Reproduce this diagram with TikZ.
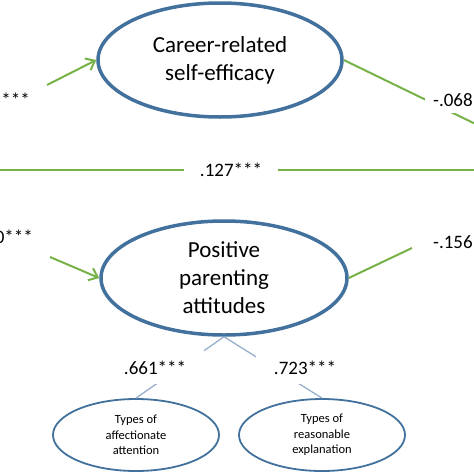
\documentclass[tikz,border=0pt]{standalone}
\usepackage{fontspec}
\setmainfont{Carlito}
\usetikzlibrary{arrows.meta,shapes.geometric}

\definecolor{ellblue}{RGB}{65,113,156}
\definecolor{pathgreen}{RGB}{118,178,72}
\definecolor{loadblue}{RGB}{150,175,205}

\begin{document}
\begin{tikzpicture}[x=1pt,y=-1pt,>={Straight Barb[length=8pt,width=13pt]}]
  \tikzstyle{latent}=[ellipse,draw=ellblue,line width=3.5pt,align=center,
    font=\fontsize{23}{28}\selectfont]
  \tikzstyle{indic}=[ellipse,draw=ellblue,line width=1.8pt,align=center,
    minimum width=166pt,minimum height=72pt,font=\fontsize{12.5}{15.5}\selectfont]
  \tikzstyle{lab}=[fill=white,inner xsep=8pt,inner ysep=6pt,
    font=\fontsize{19}{23}\selectfont]
  \tikzstyle{load}=[lab,inner xsep=18pt,minimum height=34pt]
  \tikzstyle{gpath}=[draw=pathgreen,line width=2pt]
  \tikzstyle{lpath}=[draw=loadblue,line width=1.3pt]

  \useasboundingbox (0,0) rectangle (474,474);

  \node [latent,minimum width=244pt,minimum height=114pt] (cse) at (220,60)
    {Career-related\\self-efficacy} ;
  \node [latent,minimum width=246pt,minimum height=114pt] (ppa) at (224,278)
    {Positive\\parenting\\attitudes} ;
  \node [indic] (afa) at (136,435) {Types of\\affectionate\\attention} ;
  \node [indic] (rex) at (322,435) {Types of\\reasonable\\explanation} ;

  % paths coming from and going out of the picture
  \coordinate (inA) at (47,85) ;
  \coordinate (inB) at (50,257) ;
  \coordinate (outA) at (490,131) ;
  \coordinate (outB) at (412,248) ;
  \coordinate (midL) at (-17,170) ;
  \coordinate (midR) at (479,170) ;

  \draw [->,gpath] (inA) -- (cse.west) ;
  \draw [->,gpath] (inB) -- (ppa.west) ;
  \draw [gpath] (cse.east) -- (outA) ;
  \draw [gpath] (ppa.east) -- (outB) ;
  \draw [gpath] (midL) -- node[lab,inner xsep=16pt] {.127***} (midR) ;

  \node [lab,anchor=east] (bA) at (38,100) {***} ;
  \node [lab,anchor=east] (bB) at (41,237) {0***} ;
  \node [lab,anchor=west] (bC) at (425,100) {-.068*} ;
  \node [lab,anchor=west] (bD) at (425,242) {-.156*} ;

  % loadings
  \draw [lpath] (ppa.south) -- node[load,xshift=-25pt] {.661***} (afa.north) ;
  \draw [lpath] (ppa.south) -- node[load,xshift=32pt] {.723***} (rex.north) ;

\end{tikzpicture}
\end{document}
